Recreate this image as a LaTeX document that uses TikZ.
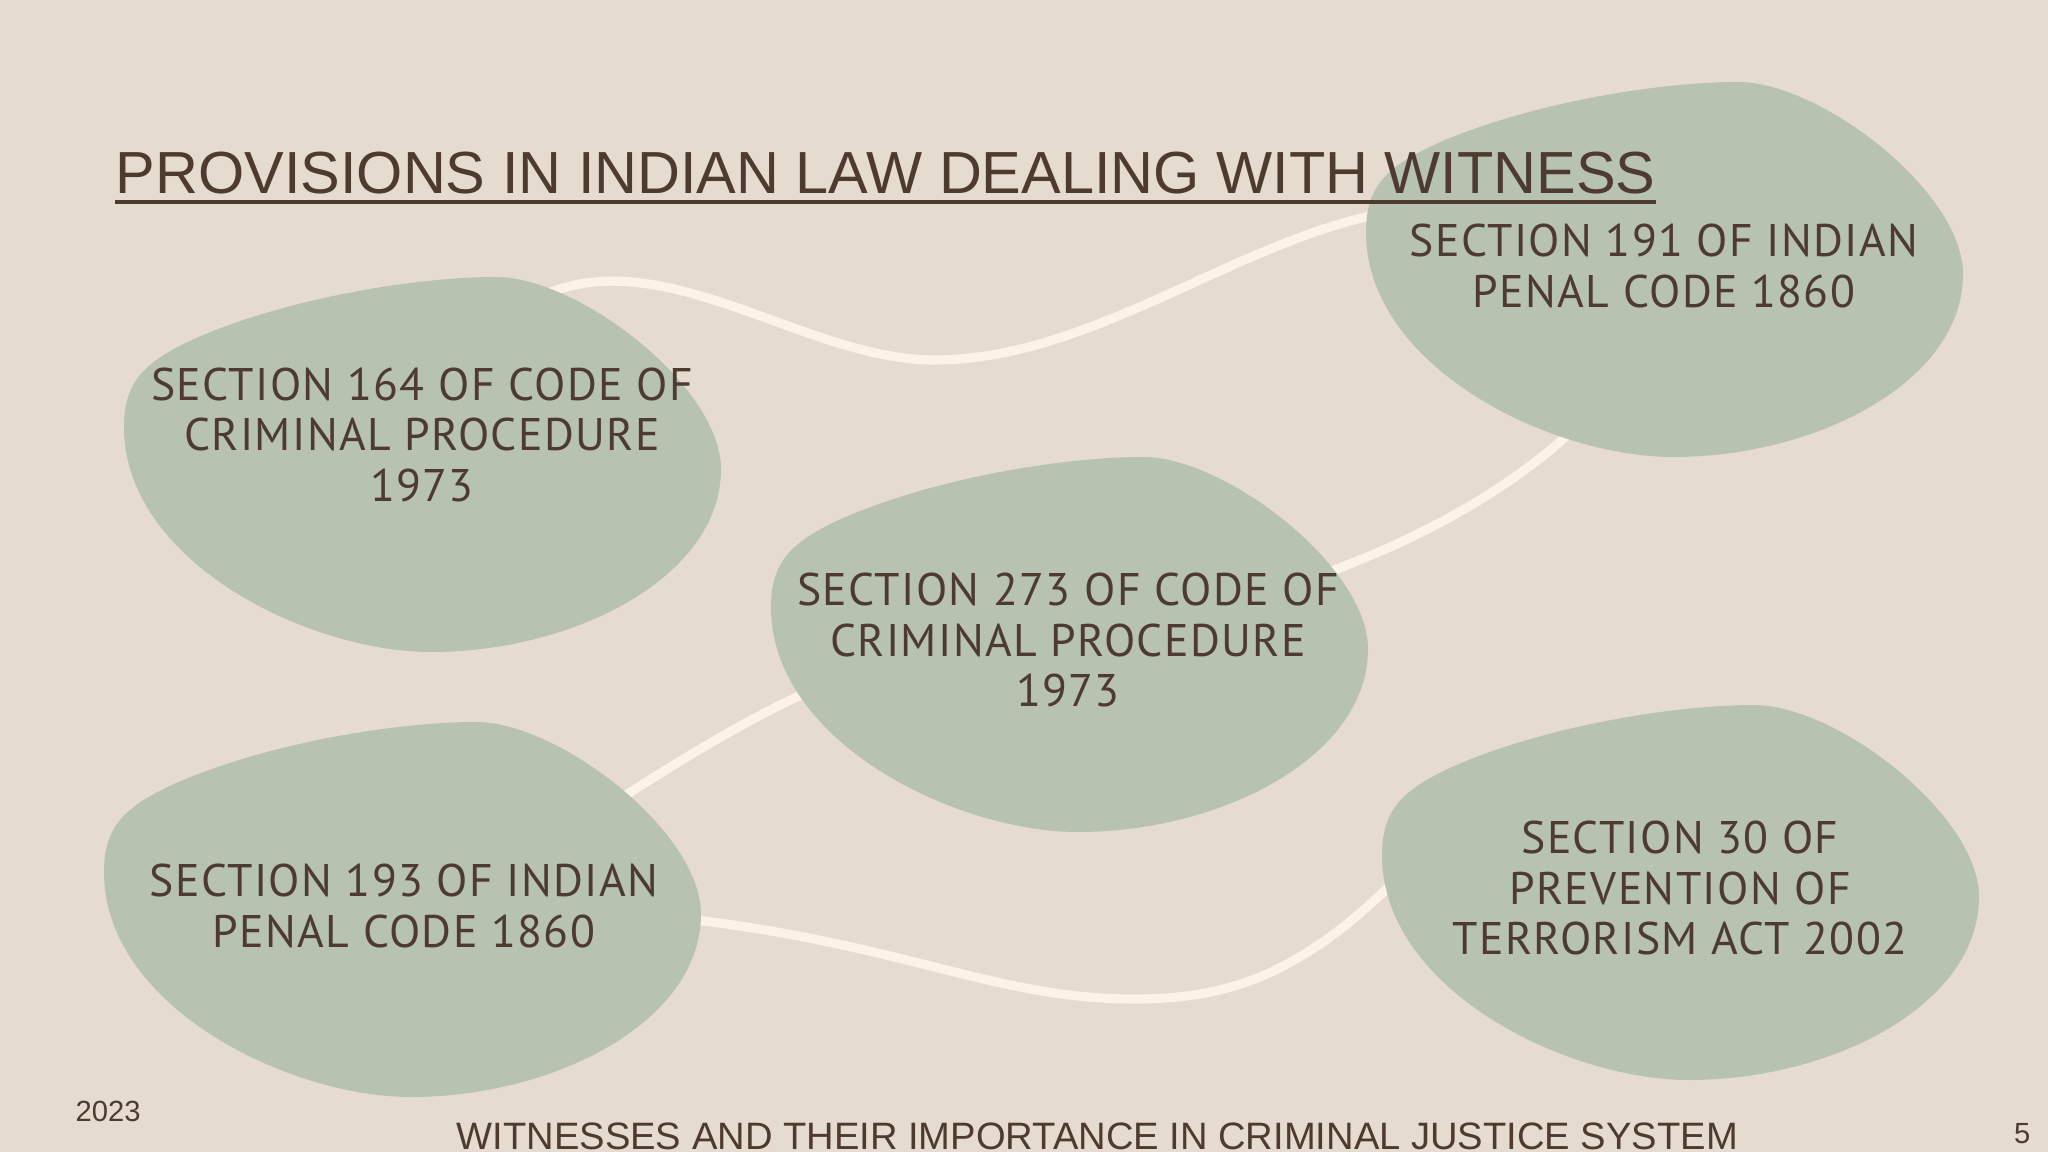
\documentclass[tikz,border=0pt]{standalone}
\usepackage{fontspec}
\setmainfont{Liberation Sans}
\newfontfamily\blobfont[LetterSpace=3.0]{PT Sans}
\definecolor{slidebg}{HTML}{E5DBCF}
\definecolor{sage}{HTML}{B8C2B1}
\definecolor{darkbrown}{HTML}{4D3B30}
\definecolor{cream}{HTML}{FCF2E8}
\pgfdeclarelayer{background}
\pgfdeclarelayer{links}
\pgfdeclarelayer{blobs}
\pgfsetlayers{background,links,blobs,main}
% one sage blob, #1,#2 = top left corner of its box
\newcommand{\blobshape}[2]{%
	\begin{scope}[shift={(#1,#2)}]
		\fill[sage] (0,150) .. controls (0,105) and (20,85) .. (70,62)
			.. controls (160,22) and (290,0) .. (372,0)
			.. controls (455,0) and (597,110) .. (597,192)
			.. controls (597,300) and (450,375) .. (307,375)
			.. controls (185,375) and (0,285) .. cycle;
	\end{scope}}
\begin{document}
\begin{tikzpicture}[x=0.01cm, y=-0.01cm,
		section/.style={font=\blobfont\fontsize{13}{14.5}\selectfont, text=darkbrown, align=center, inner sep=0pt},
		link/.style={draw=cream, line width=2.6pt},
		small/.style={font=\fontsize{8.3}{10}\selectfont, text=darkbrown, inner sep=0pt}]
		\useasboundingbox (0,0) rectangle (2048,1152);
		\begin{pgfonlayer}{background}
			\fill[slidebg] (0,0) rectangle (2048,1152);
		\end{pgfonlayer}
		% Title
		\node[anchor=base west, inner sep=0pt, text=darkbrown, font=\fontsize{16.9}{20}\selectfont] (title) at (115,194) {PROVISIONS IN INDIAN LAW DEALING WITH WITNESS};
		\draw[darkbrown, line width=1.15pt] ([yshift=-0.08cm]title.base west) -- ([yshift=-0.08cm]title.base east);
		% Nodes
		\node[section] (s164) at (422,435) {SECTION 164 OF CODE OF\\CRIMINAL PROCEDURE\\1973};
		\node[section] (s191) at (1664,266) {SECTION 191 OF INDIAN\\PENAL CODE 1860};
		\node[section] (s273) at (1068,640) {SECTION 273 OF CODE OF\\CRIMINAL PROCEDURE\\1973};
		\node[section] (s193) at (404,906) {SECTION 193 OF INDIAN\\PENAL CODE 1860};
		\node[section] (s30) at (1680,888) {SECTION 30 OF\\PREVENTION OF\\TERRORISM ACT 2002};
		\coordinate (dip1) at (934,360);
		\coordinate (dip4) at (1136,999);
		% Blobs
		\begin{pgfonlayer}{blobs}
			\blobshape{124}{277}
			\blobshape{1366}{82}
			\blobshape{771}{457}
			\blobshape{104}{722}
			\blobshape{1382}{705}
		\end{pgfonlayer}
		% Links
		\begin{pgfonlayer}{links}
			\draw[link] (s164.center) .. controls (560,140) and (760,360) .. (dip1) .. controls (1100,360) and (1250,228) .. ([yshift=0.14cm]s191.north west);
			\draw[link] (s273.center) .. controls (1350,592) and (1580,485) .. (s191.south);
			\draw[link] (s193.center) .. controls (540,900) and (790,610) .. (s273.center);
			\draw[link] (s193.center) .. controls (850,900) and (950,1000) .. (dip4) .. controls (1250,999) and (1330,960) .. (s30.north west);
		\end{pgfonlayer}
		% Footer
		\node[small, anchor=base west] (year) at (75,1121) {2023};
		\node[anchor=base west, inner sep=0pt, text=darkbrown, font=\fontsize{10.85}{13}\selectfont] (footer) at (456,1149) {WITNESSES AND THEIR IMPORTANCE IN CRIMINAL JUSTICE SYSTEM};
		\node[small, anchor=base east] (pageno) at (2031,1143) {5};
	\end{tikzpicture}
\end{document}
